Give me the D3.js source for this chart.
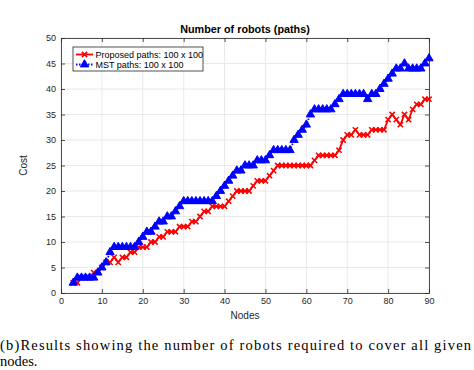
<!DOCTYPE html>
<html>
<head>
<meta charset="utf-8">
<script src="https://cdn.jsdelivr.net/npm/d3@7"></script>
<style>
  body { margin: 0; background: #fff; }
  text { font-family: "Liberation Sans", Arial, sans-serif; }
</style>
</head>
<body>
<div id="chart"></div>
<script>
// Data
var nodes = [3, 4, 5, 6, 7, 8, 9, 10, 11, 12, 13, 14, 15, 16, 17, 18, 19, 20,
  21, 22, 23, 24, 25, 26, 27, 28, 29, 30, 31, 32, 33, 34, 35, 36, 37, 38, 39, 40,
  41, 42, 43, 44, 45, 46, 47, 48, 49, 50, 51, 52, 53, 54, 55, 56, 57, 58, 59, 60,
  61, 62, 63, 64, 65, 66, 67, 68, 69, 70, 71, 72, 73, 74, 75, 76, 77, 78, 79, 80,
  81, 82, 83, 84, 85, 86, 87, 88, 89, 90];

var proposed = [2, 2, 3, 3, 3, 4, 4, 5, 6, 6, 7, 6, 7, 7, 8, 8, 9, 9,
  9, 10, 10, 11, 11, 12, 12, 12, 13, 13, 13, 14, 14, 15, 16, 16, 17, 17, 17, 17,
  18, 19, 20, 20, 20, 20, 21, 22, 22, 22, 23, 24, 25, 25, 25, 25, 25, 25, 25, 25,
  25, 26, 27, 27, 27, 27, 27, 28, 30, 31, 31, 32, 31, 31, 31, 32, 32, 32, 32, 34,
  35, 34, 33, 35, 34, 36, 37, 37, 38, 38];

var mst = [2, 3, 3, 3, 3, 3, 4, 5, 6, 8, 9, 9, 9, 9, 9, 9, 10, 11,
  12, 12, 13, 14, 14, 15, 15, 16, 17, 18, 18, 18, 18, 18, 18, 18, 18, 19, 20, 21,
  22, 23, 24, 24, 25, 25, 25, 26, 26, 26, 27, 28, 28, 28, 28, 28, 30, 31, 32, 33,
  35, 36, 36, 36, 36, 36, 37, 38, 39, 39, 39, 39, 39, 39, 38, 39, 39, 40, 41, 42,
  43, 44, 44, 45, 44, 44, 44, 44, 45, 46];

var xTicks = [0, 10, 20, 30, 40, 50, 60, 70, 80, 90];
var yTicks = [0, 5, 10, 15, 20, 25, 30, 35, 40, 45, 50];
var seriesNames = ["Proposed paths: 100 x 100", "MST paths: 100 x 100"];

var W = 474, H = 370;
var margin = { top: 38, right: 45, bottom: 77, left: 61 };
var width = W - margin.left - margin.right,
    height = H - margin.top - margin.bottom;

var svg = d3.select("#chart").append("svg")
    .attr("width", W)
    .attr("height", H);

svg.append("rect").attr("width", W).attr("height", H).attr("fill", "#fff");

var g = svg.append("g")
    .attr("transform", "translate(" + margin.left + "," + margin.top + ")");

var xScale = d3.scaleLinear().domain([0, 90]).range([0, width]);
var yScale = d3.scaleLinear().domain([0, 50]).range([height, 0]);

// grid lines
g.selectAll(".xgrid").data(xTicks).enter().append("line")
    .attr("x1", function(d) { return xScale(d); })
    .attr("x2", function(d) { return xScale(d); })
    .attr("y1", 0).attr("y2", height)
    .attr("stroke", "#e3e3e3").attr("stroke-width", 0.8);
g.selectAll(".ygrid").data(yTicks).enter().append("line")
    .attr("y1", function(d) { return yScale(d); })
    .attr("y2", function(d) { return yScale(d); })
    .attr("x1", 0).attr("x2", width)
    .attr("stroke", "#e3e3e3").attr("stroke-width", 0.8);

// axes (ticks point inwards, matlab style)
var xAxis = d3.axisBottom(xScale).tickValues(xTicks).tickSizeInner(-4).tickSizeOuter(0).tickPadding(5);
var yAxis = d3.axisLeft(yScale).tickValues(yTicks).tickSizeInner(-4).tickSizeOuter(0).tickPadding(5);

var xAxisG = g.append("g").attr("transform", "translate(0," + height + ")").call(xAxis);
var yAxisG = g.append("g").call(yAxis);
var xTop = g.append("g").call(d3.axisTop(xScale).tickValues(xTicks).tickSizeInner(-4).tickSizeOuter(0).tickFormat(""));
var yRight = g.append("g").attr("transform", "translate(" + width + ",0)")
    .call(d3.axisRight(yScale).tickValues(yTicks).tickSizeInner(-4).tickSizeOuter(0).tickFormat(""));

[xAxisG, yAxisG, xTop, yRight].forEach(function(a) {
    a.selectAll("path").attr("stroke", "#262626").attr("stroke-width", 0.8);
    a.selectAll("line").attr("stroke", "#262626").attr("stroke-width", 0.8);
    a.selectAll("text").attr("fill", "#262626").style("font-size", "9px")
        .style("font-family", "'Liberation Sans', Arial, sans-serif");
});

// series
var pts = function(vals) {
    return vals.map(function(v, i) { return [nodes[i], v]; });
};
var line = d3.line()
    .x(function(d) { return xScale(d[0]); })
    .y(function(d) { return yScale(d[1]); });

var cross = function(sel, s) {
    sel.append("path")
        .attr("d", "M" + (-s) + "," + (-s) + "L" + s + "," + s + "M" + (-s) + "," + s + "L" + s + "," + (-s))
        .attr("stroke", "#ff0000").attr("stroke-width", 1.6).attr("fill", "none");
};
var tri = d3.symbol().type(d3.symbolTriangle).size(30);

g.append("path").datum(pts(proposed))
    .attr("d", line).attr("fill", "none")
    .attr("stroke", "#ff0000").attr("stroke-width", 1.8);

g.selectAll(".redmark").data(pts(proposed)).enter().append("g")
    .attr("transform", function(d) { return "translate(" + xScale(d[0]) + "," + yScale(d[1]) + ")"; })
    .call(cross, 2.6);

g.append("path").datum(pts(mst))
    .attr("d", line).attr("fill", "none")
    .attr("stroke", "#0000ff").attr("stroke-width", 1.8)
    .attr("stroke-dasharray", "1.5,1.5");

g.selectAll(".bluemark").data(pts(mst)).enter().append("path")
    .attr("d", tri)
    .attr("transform", function(d) { return "translate(" + xScale(d[0]) + "," + yScale(d[1]) + ")"; })
    .attr("fill", "#0000ff").attr("stroke", "#0000ff").attr("stroke-width", 1);

// title and axis labels
svg.append("text")
    .attr("x", margin.left + width / 2).attr("y", 33)
    .attr("text-anchor", "middle")
    .style("font-size", "10.8px").style("font-weight", "bold")
    .attr("fill", "#000")
    .text("Number of robots (paths)");

svg.append("text")
    .attr("x", margin.left + width / 2).attr("y", 319)
    .attr("text-anchor", "middle")
    .style("font-size", "10px").attr("fill", "#262626")
    .text("Nodes");

svg.append("text")
    .attr("transform", "translate(27," + (margin.top + height / 2) + ") rotate(-90)")
    .attr("text-anchor", "middle")
    .style("font-size", "10px").attr("fill", "#262626")
    .text("Cost");

// legend
var leg = svg.append("g").attr("transform", "translate(73,47)");
leg.append("rect").attr("width", 130).attr("height", 24)
    .attr("fill", "#fff").attr("stroke", "#262626").attr("stroke-width", 0.8);

var l1 = leg.append("g").attr("transform", "translate(0,7.5)");
l1.append("line").attr("x1", 3).attr("x2", 20).attr("stroke", "#ff0000").attr("stroke-width", 1.8);
l1.append("g").attr("transform", "translate(11.5,0)").call(cross, 2.6);
l1.append("text").attr("x", 22.5).attr("y", 3.2).style("font-size", "9px").attr("fill", "#000").text(seriesNames[0]);

var l2 = leg.append("g").attr("transform", "translate(0,17.5)");
l2.append("line").attr("x1", 3).attr("x2", 20).attr("stroke", "#0000ff").attr("stroke-width", 1.8)
    .attr("stroke-dasharray", "1.5,1.5");
l2.append("path").attr("d", tri).attr("transform", "translate(11.5,0)")
    .attr("fill", "#0000ff").attr("stroke", "#0000ff");
l2.append("text").attr("x", 22.5).attr("y", 3.2).style("font-size", "9px").attr("fill", "#000").text(seriesNames[1]);

// caption under the figure
svg.append("text")
    .attr("x", 0).attr("y", 350)
    .attr("textLength", 471).attr("lengthAdjust", "spacing")
    .style("font-family", "'Liberation Serif', 'Times New Roman', serif")
    .style("font-size", "14.5px").attr("fill", "#000")
    .text("(b)Results showing the number of robots required to cover all given");
svg.append("text")
    .attr("x", 0).attr("y", 366)
    .style("font-family", "'Liberation Serif', 'Times New Roman', serif")
    .style("font-size", "14.5px").attr("fill", "#000")
    .text("nodes.");
</script>
</body>
</html>
